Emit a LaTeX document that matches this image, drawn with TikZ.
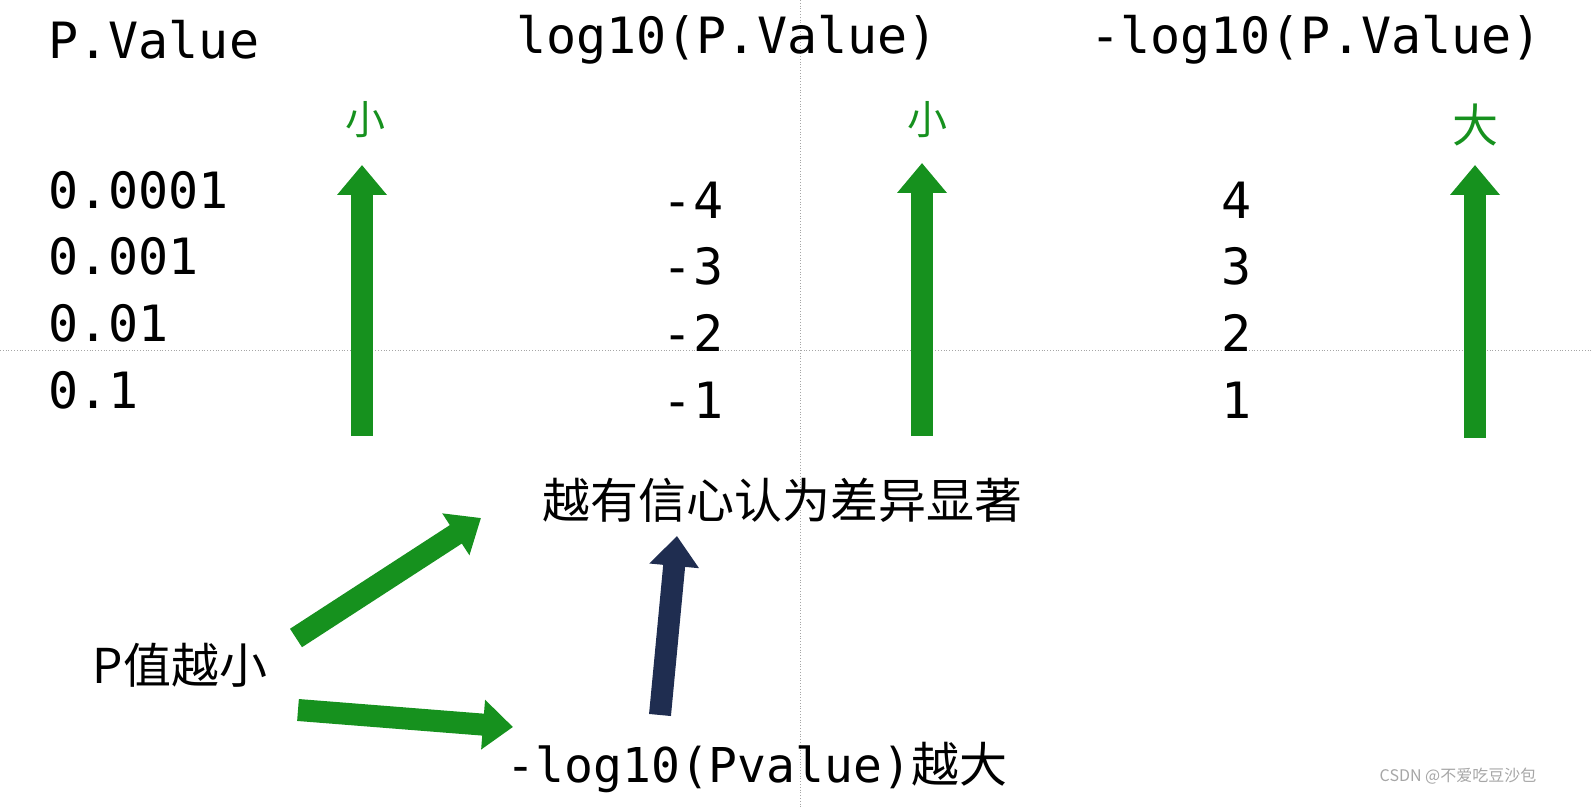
\documentclass[tikz,border=0pt]{standalone}
\usepackage{fontspec}
\setmonofont{DejaVu Sans Mono}
\newfontfamily\cjk{Noto Sans CJK SC}
\usetikzlibrary{arrows.meta}
\definecolor{agreen}{RGB}{22,145,30}
\definecolor{anavy}{RGB}{31,45,80}
\tikzset{
 mono/.style={font=\ttfamily\fontsize{25}{28}\selectfont},
 cjkt/.style={font=\cjk\fontsize{24}{27}\selectfont},
 gtxt/.style={font=\cjk\fontsize{20}{22}\selectfont,text=agreen},
 barrow/.style={line width=11pt,-{Triangle[length=15pt,width=24pt]},draw=agreen},
}
\begin{document}
\begin{tikzpicture}[x=0.5pt,y=-0.5pt]
\useasboundingbox (0,0) rectangle (1591,807);
\draw[gray!70,densely dotted,line width=0.4pt] (800,0) -- (800,807);
\draw[gray!70,densely dotted,line width=0.4pt] (0,350) -- (1591,350);
\node[mono,anchor=west,inner sep=0] (h1) at (48,40) {P.Value};
\node[mono,inner sep=0] (h2) at (727,40) {log10(P.Value)};
\node[mono,inner sep=0] (h3) at (1316,40) {-log10(P.Value)};
\node[gtxt] (s1) at (365,120) {小};
\node[gtxt] (s2) at (927,120) {小};
\node[gtxt,font=\cjk\fontsize{23}{25}\selectfont] (s3) at (1475,125) {大};
\foreach \v/\a/\b/\y [count=\i] in {0.0001/-4/4/190,0.001/-3/3/256,0.01/-2/2/323,0.1/-1/1/390}{
 \node[mono,anchor=west,inner sep=0] (p\i) at (48,\y) {\v};
 \node[mono,inner sep=0] (l\i) at (693,\y+10) {\a};
 \node[mono,inner sep=0] (n\i) at (1237,\y+10) {\b};
}
\coordinate (a1s) at (362,436); \coordinate (a1e) at (362,165);
\coordinate (a2s) at (922,436); \coordinate (a2e) at (922,163);
\coordinate (a3s) at (1475,438); \coordinate (a3e) at (1475,165);
\draw[barrow] (a1s) -- (a1e);
\draw[barrow] (a2s) -- (a2e);
\draw[barrow] (a3s) -- (a3e);
\node[cjkt] (conf) at (782,500) {越有信心认为差异显著};
\node[cjkt] (pv) at (180,665) {P值越小};
\node[cjkt,font=\ttfamily\fontsize{24}{27}\selectfont] (nl) at (757,767) {-log10(Pvalue)\cjk 越大};
\coordinate (b1s) at (296,638); \coordinate (b1e) at (481,518);
\coordinate (b2s) at (298,710); \coordinate (b2e) at (513,727);
\coordinate (b3s) at (660,715); \coordinate (b3e) at (677,536);
\draw[barrow] (b1s) -- (b1e);
\draw[barrow] (b2s) -- (b2e);
\draw[barrow,draw=anavy] (b3s) -- (b3e);
\node[font=\cjk\fontsize{8}{9}\selectfont,text=gray!70] (wm) at (1458,776) {CSDN @不爱吃豆沙包};
\end{tikzpicture}
\end{document}
